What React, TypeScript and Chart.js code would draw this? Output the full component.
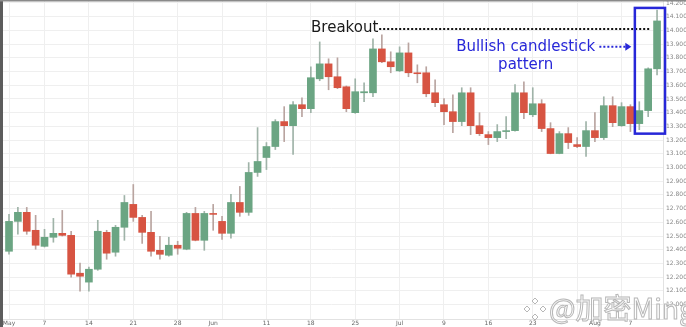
import React, { useEffect, useRef } from 'react';
import { Chart, registerables } from 'chart.js';

Chart.register(...registerables);

// Daily OHLC, 1 May .. 10 Aug (74 sessions)
const OPEN = [
  12.389, 12.607, 12.673, 12.542, 12.425, 12.491, 12.520, 12.505, 12.229, 12.164,
  12.258, 12.527, 12.382, 12.564, 12.731, 12.636, 12.527, 12.396, 12.360, 12.433,
  12.404, 12.665, 12.469, 12.665, 12.607, 12.520, 12.745, 12.673, 12.964, 13.073,
  13.153, 13.335, 13.305, 13.458, 13.429, 13.647, 13.756, 13.662, 13.589, 13.400,
  13.545, 13.545, 13.865, 13.771, 13.705, 13.836, 13.691, 13.691, 13.545, 13.458,
  13.407, 13.335, 13.545, 13.305, 13.240, 13.218, 13.262, 13.269, 13.545, 13.385,
  13.465, 13.284, 13.102, 13.247, 13.167, 13.153, 13.269, 13.218, 13.451, 13.305,
  13.444, 13.320, 13.415, 13.720,
];
const HIGH = [
  12.658, 12.709, 12.709, 12.651, 12.549, 12.629, 12.687, 12.535, 12.302, 12.273,
  12.615, 12.542, 12.578, 12.796, 12.876, 12.651, 12.680, 12.498, 12.491, 12.462,
  12.673, 12.709, 12.680, 12.731, 12.644, 12.804, 12.862, 13.036, 13.291, 13.182,
  13.349, 13.444, 13.480, 13.509, 13.735, 13.916, 13.793, 13.800, 13.595, 13.647,
  13.618, 13.938, 13.967, 13.844, 13.880, 13.909, 13.749, 13.735, 13.640, 13.502,
  13.531, 13.582, 13.582, 13.400, 13.262, 13.313, 13.371, 13.604, 13.625, 13.582,
  13.495, 13.327, 13.262, 13.291, 13.218, 13.335, 13.400, 13.516, 13.516, 13.473,
  13.458, 13.480, 13.727, 14.149,
];
const LOW = [
  12.367, 12.513, 12.513, 12.404, 12.420, 12.455, 12.500, 12.200, 12.098, 12.098,
  12.250, 12.331, 12.353, 12.469, 12.607, 12.447, 12.353, 12.331, 12.353, 12.367,
  12.400, 12.465, 12.396, 12.542, 12.476, 12.484, 12.644, 12.651, 12.935, 12.985,
  13.131, 13.189, 13.095, 13.371, 13.400, 13.633, 13.567, 13.575, 13.407, 13.395,
  13.480, 13.516, 13.765, 13.691, 13.700, 13.662, 13.618, 13.516, 13.444, 13.313,
  13.255, 13.305, 13.240, 13.233, 13.167, 13.189, 13.211, 13.265, 13.356, 13.371,
  13.262, 13.100, 13.100, 13.138, 13.145, 13.080, 13.189, 13.204, 13.298, 13.300,
  13.262, 13.276, 13.371, 13.676,
];
const CLOSE = [
  12.607, 12.673, 12.535, 12.433, 12.491, 12.520, 12.505, 12.222, 12.207, 12.258,
  12.535, 12.375, 12.564, 12.745, 12.636, 12.527, 12.389, 12.367, 12.433, 12.411,
  12.665, 12.469, 12.665, 12.658, 12.520, 12.745, 12.673, 12.964, 13.044, 13.153,
  13.335, 13.305, 13.458, 13.429, 13.655, 13.756, 13.662, 13.582, 13.429, 13.553,
  13.553, 13.865, 13.771, 13.735, 13.836, 13.691, 13.684, 13.538, 13.473, 13.407,
  13.335, 13.545, 13.305, 13.247, 13.218, 13.262, 13.269, 13.545, 13.400, 13.465,
  13.284, 13.102, 13.247, 13.182, 13.153, 13.269, 13.218, 13.451, 13.327, 13.444,
  13.320, 13.415, 13.720, 14.069,
];

const X_TICK_INDEX = [0, 4, 9, 14, 19, 23, 24, 29, 34, 39, 44, 49, 54, 59, 64, 66, 69, 70];
const X_TICK_TEXT = ['May', '7', '14', '21', '28', 'Jun', '', '11', '18', '25', 'Jul', '9', '16', '23', '', 'Aug', '', '7'];
const X_GRID_INDEX = [0, 4, 9, 14, 19, 24, 29, 34, 39, 44, 49, 54, 59, 64, 69];
const Y_TICKS = [
  12.0, 12.1, 12.2, 12.3, 12.4, 12.5, 12.6, 12.7, 12.8, 12.9, 13.0, 13.1,
  13.2, 13.3, 13.4, 13.5, 13.6, 13.7, 13.8, 13.9, 14.0, 14.1, 14.2,
];

const BREAKOUT_LEVEL = 14.011;
const UP = '#6ba583';
const DOWN = '#d75442';
const BLUE = '#2727d8';

const annotationPlugin = {
  id: 'annotations',
  beforeDraw(chart: any) {
    const ctx = chart.ctx;
    ctx.save();
    ctx.fillStyle = '#ffffff';
    ctx.fillRect(0, 0, chart.width, chart.height);
    ctx.restore();
  },
  afterDraw(chart: any) {
    const ctx = chart.ctx;
    const xs = chart.scales.x;
    const ys = chart.scales.y;
    const X = (v: number) => xs.getPixelForValue(v);
    const Y = (v: number) => ys.getPixelForValue(v);
    ctx.save();

    // watermark
    ctx.font = '28px "Noto Sans CJK SC", "DejaVu Sans", sans-serif';
    ctx.textAlign = 'left';
    ctx.textBaseline = 'alphabetic';
    ctx.lineWidth = 1;
    ctx.fillStyle = 'rgba(255,255,255,0.6)';
    ctx.fillText('@加密Ming', 549, 319);
    ctx.strokeStyle = 'rgba(170,170,170,0.85)';
    ctx.strokeText('@加密Ming', 549, 319);
    ctx.beginPath();
    const cx = 535, cy = 309;
    [[0, -8], [-8, 0], [8, 0], [0, 8]].forEach(([dx, dy]) => {
      ctx.moveTo(cx + dx, cy + dy - 3);
      ctx.lineTo(cx + dx + 3, cy + dy);
      ctx.lineTo(cx + dx, cy + dy + 3);
      ctx.lineTo(cx + dx - 3, cy + dy);
      ctx.closePath();
    });
    ctx.stroke();

    // breakout dotted line
    ctx.strokeStyle = '#111111';
    ctx.lineWidth = 2;
    ctx.setLineDash([2, 2]);
    ctx.beginPath();
    ctx.moveTo(X(41.7), Y(BREAKOUT_LEVEL));
    ctx.lineTo(X(72.2), Y(BREAKOUT_LEVEL));
    ctx.stroke();

    ctx.setLineDash([]);
    ctx.font = '15px "DejaVu Sans", sans-serif';
    ctx.fillStyle = '#1a1a1a';
    ctx.textAlign = 'right';
    ctx.textBaseline = 'middle';
    ctx.fillText('Breakout', X(41.6), Y(14.018));

    // pattern label
    ctx.fillStyle = BLUE;
    ctx.textAlign = 'center';
    ctx.fillText('Bullish candlestick', X(58.2), Y(13.88));
    ctx.fillText('pattern', X(58.2), Y(13.749));

    // blue dotted arrow
    ctx.strokeStyle = BLUE;
    ctx.lineWidth = 2;
    ctx.setLineDash([2, 2]);
    ctx.beginPath();
    ctx.moveTo(X(66.5), Y(13.88));
    ctx.lineTo(X(69.5), Y(13.88));
    ctx.stroke();
    ctx.setLineDash([]);
    ctx.fillStyle = BLUE;
    ctx.beginPath();
    const ax = X(70.1), ay = Y(13.88);
    ctx.moveTo(ax, ay);
    ctx.lineTo(ax - 6, ay - 4);
    ctx.lineTo(ax - 6, ay + 4);
    ctx.closePath();
    ctx.fill();

    // box around the pattern
    ctx.lineWidth = 2.5;
    ctx.strokeStyle = BLUE;
    const l = X(70.5), r = X(73.9), t = Y(14.164), b = Y(13.247);
    ctx.strokeRect(l, t, r - l, b - t);

    // frame edges of the screenshot
    ctx.fillStyle = '#5c5c5c';
    ctx.fillRect(0, 0, 3, chart.height);
    ctx.fillStyle = '#8a8a8a';
    ctx.fillRect(0, 0, chart.width, 1.5);
    ctx.restore();
  },
};

export default function App() {
  const ref = useRef<HTMLCanvasElement | null>(null);
  useEffect(() => {
    document.body.style.margin = '0';
    const canvas = ref.current;
    if (!canvas) return;
    const idx = OPEN.map((_, i) => i);
    const bodies = idx.map((i) => ({ x: i, y: [OPEN[i], CLOSE[i]] }));
    const wicks = idx.map((i) => ({ x: i, y: [LOW[i], HIGH[i]] }));
    const colors = idx.map((i) => (CLOSE[i] >= OPEN[i] ? UP : DOWN));
    const wickColors = idx.map((i) => (CLOSE[i] >= OPEN[i] ? '#9fb3a8' : '#b9a4a0'));

    const chart = new Chart(canvas, {
      type: 'bar',
      data: {
        datasets: [
          {
            label: 'body',
            data: bodies as any,
            backgroundColor: colors,
            borderColor: colors,
            borderWidth: 0,
            barThickness: 7,
            grouped: false,
            order: 0,
          } as any,
          {
            label: 'wick',
            data: wicks as any,
            backgroundColor: wickColors,
            borderWidth: 0,
            barThickness: 1,
            grouped: false,
            order: 1,
          } as any,
        ],
      },
      options: {
        animation: false,
        responsive: false,
        maintainAspectRatio: false,
        devicePixelRatio: 1,
        layout: { padding: 0 },
        plugins: { legend: { display: false }, tooltip: { enabled: false } },
        scales: {
          x: {
            type: 'linear',
            offset: false,
            min: -1.014,
            max: 73.67,
            afterBuildTicks: (scale: any) => {
              scale.ticks = X_TICK_INDEX.map((v) => ({ value: v }));
            },
            afterFit: (scale: any) => {
              scale.height = 8;
              scale.paddingLeft = 0;
              scale.paddingRight = 0;
            },
            ticks: {
              autoSkip: false,
              maxRotation: 0,
              padding: 1,
              font: { family: 'DejaVu Sans', size: 6 },
              color: '#666',
              callback: (v: any) => {
                const k = X_TICK_INDEX.indexOf(Number(v));
                return k >= 0 ? X_TICK_TEXT[k] : '';
              },
            },
            grid: {
              offset: false,
              drawTicks: false,
              color: (c: any) =>
                c.tick && X_GRID_INDEX.includes(Number(c.tick.value)) ? '#efefef' : 'rgba(0,0,0,0)',
            },
            border: { color: '#e2e2e2' },
          },
          y: {
            type: 'linear',
            position: 'right',
            min: 11.895,
            max: 14.2218,
            afterBuildTicks: (scale: any) => {
              scale.ticks = Y_TICKS.map((v) => ({ value: v }));
            },
            afterFit: (scale: any) => {
              scale.width = 23;
              scale.paddingTop = 0;
              scale.paddingBottom = 0;
            },
            ticks: {
              padding: 3,
              font: { family: 'DejaVu Sans', size: 6 },
              color: '#888',
              callback: (v: any) => Number(v).toFixed(5),
            },
            grid: { drawTicks: false, color: '#efefef' },
            border: { color: '#e2e2e2' },
          },
        },
      },
      plugins: [annotationPlugin],
    } as any);
    return () => chart.destroy();
  }, []);

  return (
    <div style={{ width: 686, height: 327 }}>
      <canvas ref={ref} width={686} height={327} style={{ display: 'block' }} />
    </div>
  );
}
